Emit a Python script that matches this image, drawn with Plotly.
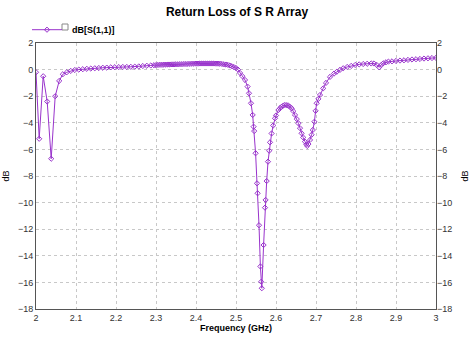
import plotly.graph_objects as go

freq_ghz = [
    2.000, 2.008, 2.018, 2.028, 2.038, 2.048, 2.058, 2.067, 2.077, 2.087,
    2.097, 2.107, 2.117, 2.127, 2.137, 2.147, 2.157, 2.167, 2.177, 2.187,
    2.197, 2.207, 2.217, 2.227, 2.237, 2.247, 2.257, 2.267, 2.277, 2.287,
    2.295, 2.300, 2.305, 2.310, 2.315, 2.320, 2.325, 2.330, 2.335, 2.340,
    2.345, 2.350, 2.355, 2.360, 2.365, 2.370, 2.375, 2.380, 2.385, 2.390,
    2.395, 2.400, 2.405, 2.410, 2.415, 2.420, 2.425, 2.430, 2.435, 2.440,
    2.445, 2.450, 2.455, 2.460, 2.465, 2.470, 2.475, 2.480, 2.485, 2.490,
    2.495, 2.500, 2.505, 2.510, 2.516, 2.5225, 2.529, 2.5325, 2.5375, 2.5417,
    2.544, 2.5455, 2.549, 2.5525, 2.554, 2.5575, 2.561, 2.563, 2.5645, 2.569,
    2.5725, 2.574, 2.5767, 2.580, 2.583, 2.585, 2.589, 2.593, 2.5975, 2.600,
    2.606, 2.610, 2.614, 2.618, 2.6225, 2.627, 2.631, 2.635, 2.639, 2.643,
    2.6475, 2.652, 2.656, 2.660, 2.664, 2.668, 2.6725, 2.676, 2.678, 2.681,
    2.685, 2.689, 2.692, 2.696, 2.699, 2.7017, 2.706, 2.710, 2.718, 2.725,
    2.735, 2.745, 2.752, 2.760, 2.768, 2.778, 2.788, 2.798, 2.808, 2.818,
    2.828, 2.838, 2.845, 2.852, 2.858, 2.863, 2.868, 2.875, 2.881, 2.890,
    2.900, 2.910, 2.920, 2.930, 2.940, 2.950, 2.960, 2.970, 2.980, 2.990,
    3.000,
]

s11_db = [
    -0.20, -5.20, -0.50, -2.40, -6.70, -2.00, -0.85, -0.35, -0.20, -0.10,
    -0.03, 0.00, 0.03, 0.06, 0.08, 0.10, 0.12, 0.14, 0.15, 0.17,
    0.18, 0.19, 0.20, 0.20, 0.21, 0.22, 0.24, 0.27, 0.29, 0.31,
    0.33, 0.34, 0.35, 0.36, 0.36, 0.37, 0.37, 0.38, 0.38, 0.39,
    0.39, 0.40, 0.40, 0.41, 0.41, 0.42, 0.42, 0.43, 0.43, 0.44,
    0.44, 0.45, 0.45, 0.46, 0.46, 0.46, 0.46, 0.46, 0.46, 0.46,
    0.46, 0.45, 0.45, 0.44, 0.42, 0.40, 0.38, 0.35, 0.31, 0.25,
    0.19, 0.12, 0.00, -0.25, -0.50, -0.78, -1.28, -1.78, -2.53, -3.41,
    -4.29, -4.62, -6.29, -8.55, -9.30, -11.70, -14.80, -15.95, -16.44, -13.19,
    -10.38, -9.80, -8.38, -6.92, -6.10, -5.47, -4.80, -4.20, -3.66, -3.45,
    -3.04, -2.90, -2.79, -2.71, -2.66, -2.67, -2.71, -2.80, -2.91, -3.12,
    -3.41, -3.72, -4.04, -4.40, -4.79, -5.10, -5.42, -5.62, -5.74, -5.60,
    -5.29, -4.90, -4.54, -3.92, -3.10, -2.53, -2.20, -1.91, -1.41, -1.00,
    -0.55, -0.30, -0.16, -0.02, 0.10, 0.20, 0.28, 0.35, 0.39, 0.42,
    0.44, 0.46, 0.46, 0.35, 0.17, 0.35, 0.47, 0.55, 0.60, 0.62,
    0.65, 0.68, 0.70, 0.73, 0.76, 0.78, 0.80, 0.83, 0.85, 0.87,
    0.88,
]

x_ticks = [2.0, 2.1, 2.2, 2.3, 2.4, 2.5, 2.6, 2.7, 2.8, 2.9, 3.0]
x_tick_labels = ["2", "2.1", "2.2", "2.3", "2.4", "2.5", "2.6", "2.7", "2.8", "2.9", "3"]
y_ticks = [2, 0, -2, -4, -6, -8, -10, -12, -14, -16, -18]

line_color = "#9933CC"
font_family = "Liberation Sans, Arial, sans-serif"

fig = go.Figure()
fig.add_trace(go.Scatter(
    x=freq_ghz, y=s11_db, mode="lines+markers",
    name="\u00a0\u00a0<b>dB[S(1,1)]</b>",
    line=dict(color=line_color, width=1),
    marker=dict(symbol="diamond-open", size=4, color=line_color, line=dict(width=1)),
))
# invisible trace so right axis draws
fig.add_trace(go.Scatter(
    x=[freq_ghz[0]], y=[s11_db[0]], yaxis="y2", mode="markers",
    marker=dict(opacity=0), showlegend=False, hoverinfo="skip",
))

axis_common = dict(
    showgrid=True, gridcolor="#c8c8c8", griddash="dot", gridwidth=1,
    zeroline=False, ticks="", showline=True, linecolor="#555555", linewidth=1,
    automargin=False,
    tickfont=dict(size=9, color="#333333", family=font_family),
)

fig.update_layout(
    width=474, height=337,
    margin=dict(l=36, r=38, t=43, b=28, autoexpand=False),
    paper_bgcolor="white", plot_bgcolor="white",
    font=dict(family=font_family, color="#000000"),
    title=dict(text="<b>Return Loss of S R Array</b>", x=0.5, xanchor="center",
               y=0.965, yanchor="middle", font=dict(size=12, color="#000000")),
    showlegend=True,
    legend=dict(x=-0.0225, y=1.05, xanchor="left", yanchor="middle",
                bgcolor="rgba(0,0,0,0)", font=dict(size=9, family=font_family),
                itemwidth=30, tracegroupgap=0),
    shapes=[dict(type="rect", xref="paper", yref="paper",
                 x0=(62 - 36) / 400, x1=(68 - 36) / 400,
                 y0=(309 - 30) / 266, y1=(309 - 24) / 266,
                 line=dict(color="#888888", width=1), fillcolor="white")],
    xaxis=dict(range=[2.0, 3.0], tickvals=x_ticks, ticktext=x_tick_labels,
               mirror=True,
               title=dict(text="<b>Frequency (GHz)</b>", font=dict(size=9), standoff=2),
               **axis_common),
    yaxis=dict(range=[-18, 2], tickvals=y_ticks, mirror=True,
               title=dict(text="dB", font=dict(size=9), standoff=6),
               **axis_common),
    yaxis2=dict(range=[-18, 2], tickvals=y_ticks, overlaying="y", side="right",
                anchor="x", showgrid=False, zeroline=False, ticks="", automargin=False,
                tickfont=dict(size=9, color="#333333", family=font_family),
                title=dict(text="dB", font=dict(size=9), standoff=10)),
)

fig.write_html("out.html")
